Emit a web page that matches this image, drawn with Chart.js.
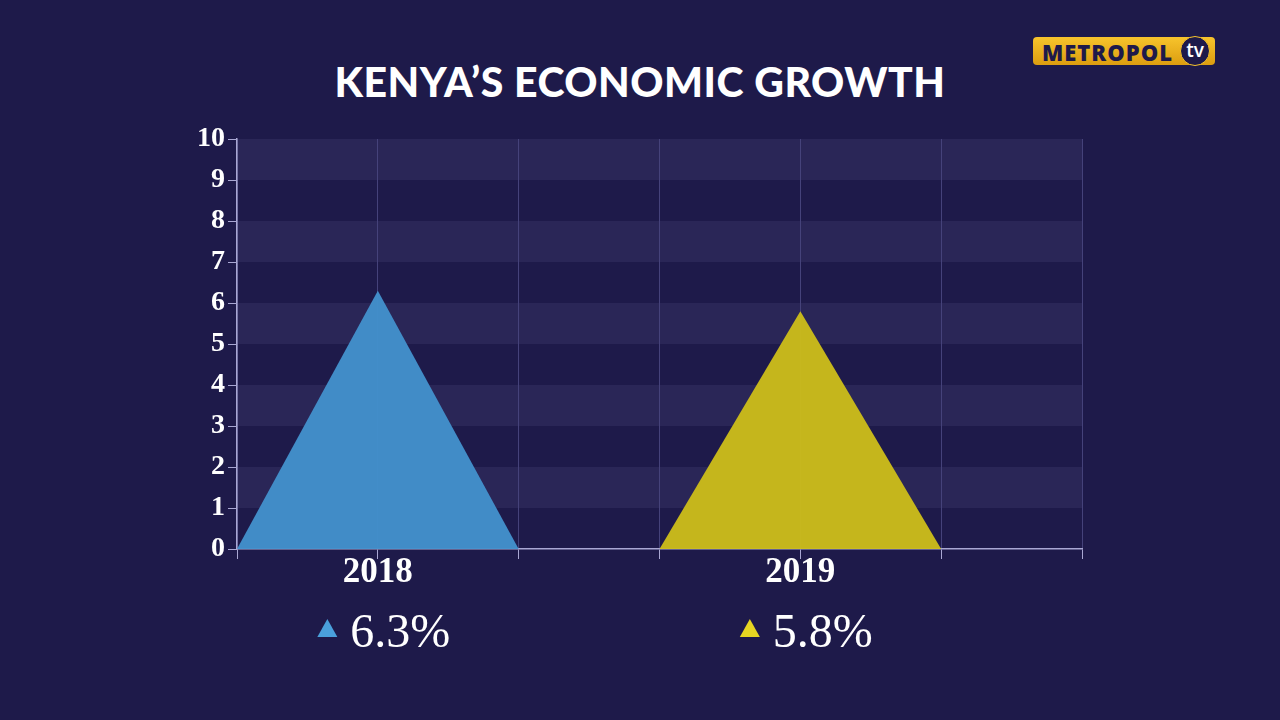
<!DOCTYPE html>
<html lang="en">
<head>
<meta charset="UTF-8">
<title>Kenya's Economic Growth</title>
<script src="https://cdn.jsdelivr.net/npm/chart.js"></script>
<style>
  body { margin: 0; width: 1280px; height: 720px; overflow: hidden; position: relative; background: #1e1a4a; }
  #growthChart { position: absolute; left: 0; top: 0; }
  .title { position: absolute; left: 0; top: 57px; width: 1280px; text-align: center; color: #fff;
           font: 900 41px Lato, sans-serif; letter-spacing: 0.5px; }
  .logo { position: absolute; left: 1033px; top: 37px; width: 182px; height: 28px; border-radius: 4px;
          background: linear-gradient(#f7c42c, #dc9d10); }
  .logo span.m { position: absolute; left: 9px; top: 0; line-height: 28px; color: #1e1a4a;
                 font: 800 22px "Open Sans", sans-serif; letter-spacing: 1px; }
  .logo span.tv { position: absolute; left: 147px; top: -1px; width: 28px; height: 28px; border-radius: 50%;
                  background: #1e1a4a; border: 1px solid #f7c42c; color: #fff; text-align: center;
                  line-height: 26px; font: 600 19px "Open Sans", sans-serif; }
</style>
</head>
<body>
<div class="title">KENYA’S ECONOMIC GROWTH</div>
<div class="logo"><span class="m">METROPOL</span><span class="tv">tv</span></div>
<canvas id="growthChart" width="1280" height="720"></canvas>

<script>
  // data
  const years = ['2018', '2019'];
  const growth = [6.3, 5.8];
  const yearSlots = [1, 4];          // where each year sits on the 0..6 x axis
  const yTickValues = [0, 1, 2, 3, 4, 5, 6, 7, 8, 9, 10];
  const fillColors = ['rgba(67, 145, 204, 0.96)', 'rgba(204, 188, 26, 0.96)'];
  const markerColors = ['#4aa0dc', '#e6d522'];

  const axisColor = '#a9a7d3';
  const gridColor = '#45427a';
  const bandColor = '#2a2657';

  // each year is drawn as a triangle: base one slot either side, peak at the value
  const datasets = years.map((yr, i) => ({
    label: yr,
    data: [
      { x: yearSlots[i] - 1, y: 0 },
      { x: yearSlots[i], y: growth[i] },
      { x: yearSlots[i] + 1, y: 0 }
    ],
    fill: 'origin',
    backgroundColor: fillColors[i],
    borderWidth: 0,
    pointRadius: 0,
    tension: 0
  }));

  const bands = {
    id: 'bands',
    beforeDraw(chart) {
      const { ctx, chartArea, scales } = chart;
      ctx.save();
      ctx.fillStyle = bandColor;
      for (let v = 1; v < 10; v += 2) {
        const top = scales.y.getPixelForValue(v + 1);
        const bot = scales.y.getPixelForValue(v);
        ctx.fillRect(chartArea.left, top, chartArea.right - chartArea.left, bot - top);
      }
      ctx.restore();
    }
  };

  const valueLabels = {
    id: 'valueLabels',
    afterDraw(chart) {
      const { ctx, scales } = chart;
      ctx.save();
      ctx.font = '48px "Liberation Serif", serif';
      ctx.textBaseline = 'alphabetic';
      years.forEach((yr, i) => {
        const txt = growth[i] + '%';
        const tw = ctx.measureText(txt).width;
        const mw = 20, gap = 13;
        const cx = scales.x.getPixelForValue(yearSlots[i]) + 6;
        const x0 = cx - (mw + gap + tw) / 2;
        ctx.fillStyle = markerColors[i];
        ctx.beginPath();
        ctx.moveTo(x0, 637);
        ctx.lineTo(x0 + mw / 2, 619);
        ctx.lineTo(x0 + mw, 637);
        ctx.closePath();
        ctx.fill();
        ctx.fillStyle = '#fff';
        ctx.fillText(txt, x0 + mw + gap, 647);
      });
      ctx.restore();
    }
  };

  new Chart(document.getElementById('growthChart'), {
    type: 'line',
    data: { datasets },
    options: {
      responsive: false,
      animation: false,
      layout: { padding: { left: 0, top: 139, right: 198, bottom: 111 } },
      plugins: { legend: { display: false }, tooltip: { enabled: false } },
      scales: {
        x: {
          type: 'linear',
          min: 0,
          max: 6,
          afterFit(s) { s.height = 60; },
          ticks: {
            stepSize: 1,
            padding: -7,
            maxRotation: 0,
            autoSkip: false,
            color: '#fff',
            font: { family: '"Liberation Serif", serif', size: 35, weight: 'bold' },
            callback(v) {
              const i = yearSlots.indexOf(v);
              return i >= 0 ? years[i] : '';
            }
          },
          grid: { color: gridColor, tickColor: axisColor, tickLength: 10, lineWidth: 1 },
          border: { color: axisColor, width: 1.5 }
        },
        y: {
          min: 0,
          max: 10,
          afterFit(s) { s.width = 237; },
          afterBuildTicks(s) { s.ticks = yTickValues.map(v => ({ value: v })); },
          ticks: {
            padding: 3,
            color: '#fff',
            font: { family: '"Liberation Serif", serif', size: 28, weight: 'bold' }
          },
          grid: { drawOnChartArea: false, tickColor: axisColor, tickLength: 9 },
          border: { color: axisColor, width: 1.5 }
        }
      }
    },
    plugins: [bands, valueLabels]
  });
</script>
</body>
</html>
